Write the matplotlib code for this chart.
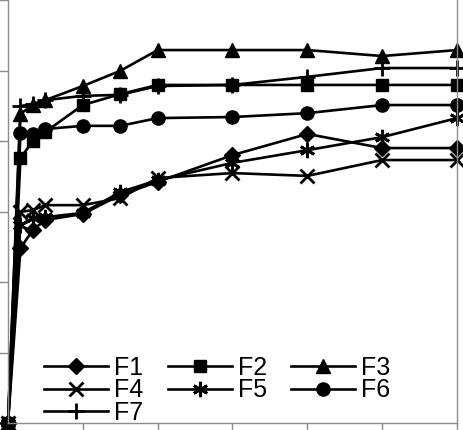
import matplotlib
matplotlib.use("Agg")
import matplotlib.pyplot as plt

plt.rcParams['font.family'] = ['Liberation Sans', 'DejaVu Sans']

# time points (min)
t = [0, 5, 10, 15, 30, 45, 60, 90, 120, 150, 180]

F1 = [0, 49.6, 54.8, 57.6, 59.3, 64.7, 68.4, 76.0, 82.0, 78.0, 78.0]
F2 = [0, 75.2, 80.0, 82.6, 90.2, 93.3, 95.9, 95.9, 95.9, 95.9, 95.9]
F3 = [0, 87.7, 90.2, 91.6, 95.6, 99.9, 105.8, 105.8, 105.8, 104.1, 105.8]
F4 = [0, 59.9, 60.4, 61.8, 61.8, 63.8, 69.5, 70.9, 70.1, 74.6, 74.6]
F5 = [0, 56.2, 58.2, 58.4, 59.6, 65.5, 68.9, 73.8, 77.4, 81.1, 86.5]
F6 = [0, 82.3, 82.0, 83.4, 84.3, 84.3, 86.5, 86.8, 87.9, 90.2, 90.2]
F7 = [0, 89.9, 90.5, 91.6, 92.8, 93.1, 95.6, 95.9, 98.2, 100.7, 100.7]

names = ['F1', 'F2', 'F3', 'F4', 'F5', 'F6', 'F7']
series = [F1, F2, F3, F4, F5, F6, F7]

x_ticks = [0, 30, 60, 90, 120, 150, 180]
y_ticks = [0, 20, 40, 60, 80, 100, 120]

styles = {
    'F1': dict(marker='D', markersize=8),
    'F2': dict(marker='s', markersize=9),
    'F3': dict(marker='^', markersize=10),
    'F4': dict(marker='x', markersize=10, markeredgewidth=2),
    'F5': dict(marker=(6, 2, 0), markersize=11, markeredgewidth=2),
    'F6': dict(marker='o', markersize=9.5),
    'F7': dict(marker='+', markersize=12, markeredgewidth=2),
}

W, H = 464, 430
fig = plt.figure(figsize=(W / 100, H / 100), dpi=100)
ax = fig.add_axes([8 / W, 7 / H, 449 / W, 423 / H])

handles = {}
for n, s in zip(names, series):
    ln, = ax.plot(t, s, color='black', linewidth=1.9, markerfacecolor='black',
                  markeredgecolor='black', clip_on=False, label=n, **styles[n])
    handles[n] = ln

ax.set_xlim(0, 180)
ax.set_ylim(0, 120)
ax.set_xticks(x_ticks)
ax.set_yticks(y_ticks)
ax.set_xticklabels([])
ax.set_yticklabels([])
ax.tick_params(axis='both', direction='out', length=7, width=1, color='#8c8c8c')
for side in ['left', 'bottom', 'right']:
    ax.spines[side].set_color('#8c8c8c')
    ax.spines[side].set_linewidth(1)
ax.spines['top'].set_visible(False)

order = ['F1', 'F4', 'F7', 'F2', 'F5', 'F3', 'F6']
leg = ax.legend([handles[n] for n in order], order, ncol=3, frameon=False,
                loc='upper left', bbox_to_anchor=(36 / 449, (423 - 356) / 423),
                borderpad=0, borderaxespad=0, fontsize=18,
                handlelength=2.55, handletextpad=0.25, columnspacing=0.98,
                labelspacing=-0.07)

fig.savefig('out.png', dpi=100)
